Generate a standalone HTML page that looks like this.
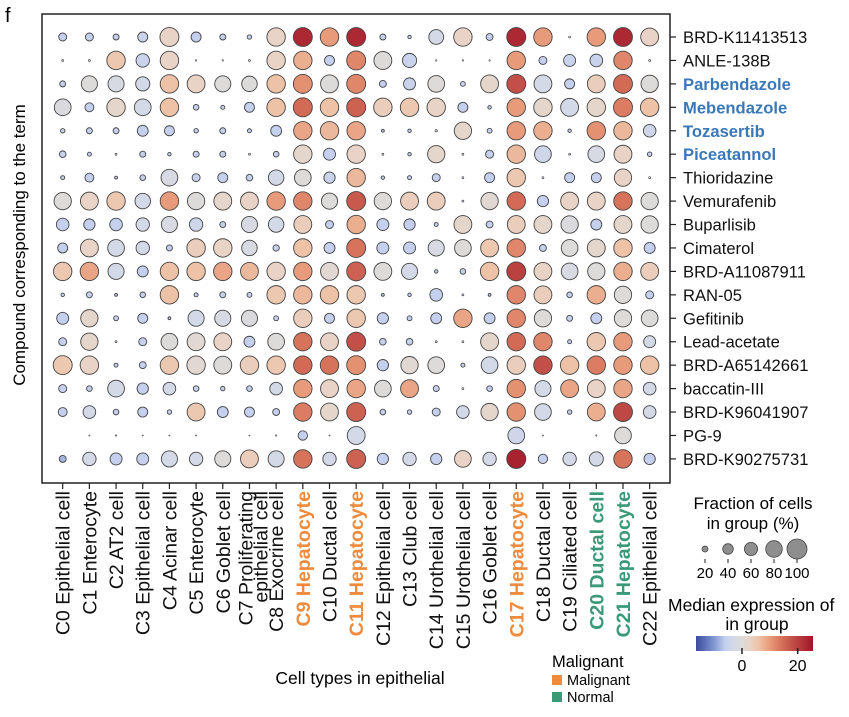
<!DOCTYPE html>
<html><head><meta charset="utf-8"><style>
html,body{margin:0;padding:0;background:#fff;width:849px;height:717px;overflow:hidden}
svg{display:block;font-family:"Liberation Sans",Arial,sans-serif}
</style></head><body>
<svg id="chart" width="849" height="717" viewBox="0 0 849 717">
<text x="5" y="22" font-size="20">f</text>
<rect x="42" y="14" width="628" height="469" fill="none" stroke="#222" stroke-width="1.5"/>
<g id="dots"></g>
<g id="xlabels"></g>
<g id="ylabels"></g>
<text transform="translate(25,245) rotate(-90)" text-anchor="middle" font-size="17">Compound corresponding to the term</text>
<text x="360" y="684" text-anchor="middle" font-size="17.5">Cell types in epithelial</text>
<g>
<text x="552" y="667" font-size="16.5">Malignant</text>
<rect x="552" y="675" width="10" height="10" fill="#f08a3c"/>
<text x="567" y="685" font-size="14.5">Malignant</text>
<rect x="552" y="692" width="10" height="10" fill="#3a9a78"/>
<text x="567" y="702" font-size="14.5">Normal</text>
</g>
<g>
<text x="753" y="509" text-anchor="middle" font-size="17">Fraction of cells</text>
<text x="753" y="529" text-anchor="middle" font-size="17">in group (%)</text>
<g id="sizeleg"></g>
</g>
<g>
<text x="668" y="611" font-size="17.5">Median expression of</text>
<text x="757" y="630" text-anchor="middle" font-size="17.5">in group</text>
<defs><linearGradient id="cgrad" x1="0" x2="1" y1="0" y2="0"></linearGradient></defs>
<rect x="696" y="636" width="117" height="15" fill="url(#cgrad)"/>
<g id="cticks"></g>
</g>
<text x="845" y="530" font-size="10">⋮</text>
<text x="845" y="580" font-size="10">⋮</text>
</svg>
<script>
const compounds=["BRD-K11413513","ANLE-138B","Parbendazole","Mebendazole","Tozasertib","Piceatannol","Thioridazine","Vemurafenib","Buparlisib","Cimaterol","BRD-A11087911","RAN-05","Gefitinib","Lead-acetate","BRD-A65142661","baccatin-III","BRD-K96041907","PG-9","BRD-K90275731"];
const highlightedCompounds=["Parbendazole","Mebendazole","Tozasertib","Piceatannol"];
const cellTypes=["C0 Epithelial cell","C1 Enterocyte","C2 AT2 cell","C3 Epithelial cell","C4 Acinar cell","C5 Enterocyte","C6 Goblet cell","C7 Proliferating|epithelial cell","C8 Exocrine cell","C9 Hepatocyte","C10 Ductal cell","C11 Hepatocyte","C12 Epithelial cell","C13 Club cell","C14 Urothelial cell","C15 Urothelial cell","C16 Goblet cell","C17 Hepatocyte","C18 Ductal cell","C19 Ciliated cell","C20 Ductal cell","C21 Hepatocyte","C22 Epithelial cell"];
const cellStatus=["","","","","","","","","","malignant","","malignant","","","","","","malignant","","","normal","normal",""];
const fraction=[
[16,16,9,25,90,25,9,5,85,90,85,90,9,3,55,85,12,90,85,1,85,90,80],
[1,1,85,45,85,0.5,0.5,1,85,85,25,90,80,50,0.5,0.5,0.5,85,16,36,40,85,1],
[9,65,65,50,85,80,65,60,85,90,80,90,12,36,70,6,80,90,80,25,80,90,75],
[70,20,85,70,85,8,4,25,85,90,85,90,85,85,85,25,3,85,85,80,85,90,85],
[5,9,9,30,25,5,9,4,30,85,85,85,2,3,1.5,75,6,85,85,3,85,85,40],
[11,4,1,9,3,9,9,1,8,85,36,85,1,3,75,1,16,85,70,1,70,80,5],
[4,20,2,8,70,16,25,11,60,70,32,85,3,4,16,1,25,85,1,25,25,75,1],
[75,80,85,60,85,75,80,80,85,85,65,90,75,80,80,1,75,85,32,80,80,85,75],
[40,32,40,45,65,45,9,65,60,80,16,85,36,32,4,80,12,80,80,75,30,80,75],
[25,80,70,45,9,85,85,60,10,85,30,90,36,36,65,70,80,85,12,70,80,85,30],
[85,85,65,30,85,85,85,80,85,85,80,90,80,65,3,8,85,90,80,70,75,85,80],
[3,9,2,8,85,4,9,6,85,85,85,85,2,3,40,1,2,85,80,8,85,75,16],
[36,75,6,25,2,65,65,65,6,85,25,85,32,6,30,85,30,85,75,9,30,75,70],
[16,75,1,16,70,80,80,30,70,85,80,90,11,11,1,1,80,85,85,4,85,85,36],
[90,85,4,12,85,85,80,85,85,85,85,90,32,75,70,4,70,85,85,85,85,85,85],
[16,8,70,32,40,8,5,8,40,85,80,85,70,80,9,1,8,85,65,80,80,85,40],
[20,40,8,25,5,80,30,25,12,85,80,90,8,5,16,40,75,85,70,5,80,90,40],
[0,0.3,0.5,0.3,0.3,0.3,0,0.3,0.5,22,0.3,80,0,0,0,0,0,70,0.3,0,0.5,70,0],
[12,45,36,36,65,45,65,80,65,85,45,90,32,45,32,70,45,90,22,45,50,85,32]];
const expression=[
[-6,-6,-6,-5,3,-6,-6,-6,3,23,10,23,-6,-5,-3,3,-6,23,10,0,10,23,3],
[-5,-5,5,-5,3,-5,-5,-5,3,8,-6,12,0,-5,-5,-5,-5,10,-6,-5,-5,12,-5],
[-6,0,-2,-3,6,3,0,0,6,11,0,12,-6,-5,0,-6,2,18,-3,-6,4,15,0],
[-1,-6,2,-3,6,-6,-6,-6,6,15,6,16,4,5,3,-6,-6,10,2,-3,2,13,6],
[-6,-6,-6,-6,-6,-6,-6,-6,-6,9,7,9,-6,-6,-6,2,-6,10,8,-6,11,7,-4],
[-6,-6,-6,-6,-6,-6,-6,-6,-6,2,-6,3,-6,-6,2,-6,-6,7,-4,-6,-2,3,-6],
[-6,-6,-6,-6,-2,-6,-6,-6,-3,0,-5,7,-6,-6,-6,-6,-6,5,-6,-6,-6,3,-6],
[0,3,5,-3,10,0,2,3,10,12,0,17,0,4,4,-6,1,15,-6,3,3,14,0],
[-6,-6,-6,-3,-2,-4,-6,-2,-3,4,-6,8,-6,-6,-6,2,-6,4,2,-1,-6,2,0],
[-6,3,-3,-3,-6,4,3,-2,-6,6,-6,14,-6,-6,-2,0,5,12,-6,0,2,6,-6],
[5,9,-3,-6,6,6,9,7,3,10,1,16,0,-3,-6,-6,6,20,3,-2,0,8,4],
[-6,-6,-6,-6,6,-6,-6,-6,5,7,6,5,-6,-6,-6,-6,-6,12,4,-6,8,0,-6],
[-6,2,-6,-6,-6,-3,-2,-1,-6,4,-6,5,-6,-6,-6,9,-6,12,0,-6,-6,0,0],
[-6,2,-6,-6,0,1,3,-6,0,14,3,18,-6,-6,-6,-6,2,15,12,-6,5,10,-3],
[5,3,-6,-6,5,1,0,4,5,15,14,11,-6,1,0,-6,-3,4,18,6,13,10,6],
[-6,-6,-3,-6,-3,-6,-6,-6,-3,10,3,9,0,9,-6,-6,-6,11,-3,9,3,9,-3],
[-6,-3,-6,-6,-6,5,-6,-6,-6,13,2,16,-6,-6,-6,-3,2,11,-3,-6,8,19,-3],
[-6,-6,-6,-6,-6,-6,-6,-6,-6,-6,-6,-3,-6,-6,-6,-6,-6,-4,-6,-6,-6,0,-6],
[-8,-3,-6,-6,-3,-3,0,4,-3,14,-3,16,-6,-3,-6,3,-3,24,-6,-3,-3,14,-6]];
const sizeLegendValues=[20,40,60,80,100];
const colorTickValues=[0,20];

const NS="http://www.w3.org/2000/svg";
const xScale=i=>62.7+26.68*i;
const yScale=j=>37+23.44*j;
const rScale=p=>10*Math.sqrt(p/100);
const vmin=-16.5, vmax=25.5;
const cbX=v=>696+(v-vmin)/(vmax-vmin)*117;
const stops=[[-16.5,[58,74,158]],[-10,[130,152,210]],[-6,[196,208,238]],[-3,[212,217,232]],[0,[221,219,217]],[3,[233,211,198]],[6,[237,194,166]],[10,[232,155,122]],[14,[216,115,91]],[18,[194,80,72]],[25.5,[161,22,42]]];
function color(v){
  v=Math.max(vmin,Math.min(vmax,v));
  for(let k=0;k<stops.length-1;k++){
    const a=stops[k],b=stops[k+1];
    if(v<=b[0]){const t=(v-a[0])/(b[0]-a[0]);
      const c=a[1].map((x,q)=>Math.round(x+(b[1][q]-x)*t));
      return `rgb(${c[0]},${c[1]},${c[2]})`;}
  }
  return "rgb(161,22,42)";
}
function mk(tag,attrs,parent){const e=document.createElementNS(NS,tag);for(const k in attrs)e.setAttribute(k,attrs[k]);parent.appendChild(e);return e;}

const dots=document.getElementById('dots');
fraction.forEach((row,j)=>{row.forEach((p,i)=>{
  if(p<=0)return;
  const c=mk('circle',{cx:xScale(i),cy:yScale(j),r:Math.max(0.6,rScale(p)),fill:color(expression[j][i]),stroke:'#444','stroke-width':p<2?0.6:0.9},dots);
  
  
});});

const yl=document.getElementById('ylabels');
compounds.forEach((n,j)=>{
  const t=mk('line',{x1:670,x2:676,y1:yScale(j),y2:yScale(j),stroke:'#222','stroke-width':1.2},yl);
  
  
  const hl=highlightedCompounds.includes(n);
  const tx=mk('text',{x:683,y:yScale(j)+6,'font-size':16.6,fill:hl?'#3b78b8':'#111','font-weight':hl?'bold':'normal'},yl);
  tx.textContent=n;
  
  
});

const xl=document.getElementById('xlabels');
cellTypes.forEach((n,i)=>{
  const x=xScale(i);
  const t=mk('line',{x1:x,x2:x,y1:483,y2:489,stroke:'#222','stroke-width':1.2},xl);
  
  
  const st=cellStatus[i];
  const fill=st==='malignant'?'#f08a3c':st==='normal'?'#3a9a78':'#111';
  const parts=n.split('|');
  parts.forEach((s,k)=>{
    const xx=x+7+(parts.length>1?(k===0?-4:11):0);
    const tx=mk('text',{transform:`translate(${xx},491) rotate(-90)`,'text-anchor':'end','font-size':19.5,fill,'font-weight':st?'bold':'normal'},xl);
    tx.textContent=s;
    
    
  });
});

const sl=document.getElementById('sizeleg');
sizeLegendValues.forEach((p,k)=>{
  const x=705+23*k;
  const c=mk('circle',{cx:x,cy:549,r:[3,5.3,6.6,8.3,10][k],fill:'#8e8e8e',stroke:'#444','stroke-width':0.8},sl);
  
  
  const t=mk('line',{x1:x,x2:x,y1:559,y2:563,stroke:'#222'},sl);
  
  
  const tx=mk('text',{x:x,y:578,'text-anchor':'middle','font-size':15},sl);
  tx.textContent=p;
  
  
});

const g=document.getElementById('cgrad');
stops.forEach(s=>{mk('stop',{offset:((s[0]-vmin)/(vmax-vmin)*100)+'%','stop-color':color(s[0])},g);});
const ct=document.getElementById('cticks');
colorTickValues.forEach(v=>{
  const x=cbX(v);
  const t=mk('line',{x1:x,x2:x,y1:648,y2:654,stroke:'#222','stroke-width':1.5},ct);
  
  
  const tx=mk('text',{x:x,y:671,'text-anchor':'middle','font-size':16},ct);
  tx.textContent=v;
  
  
});
</script>
</body></html>
